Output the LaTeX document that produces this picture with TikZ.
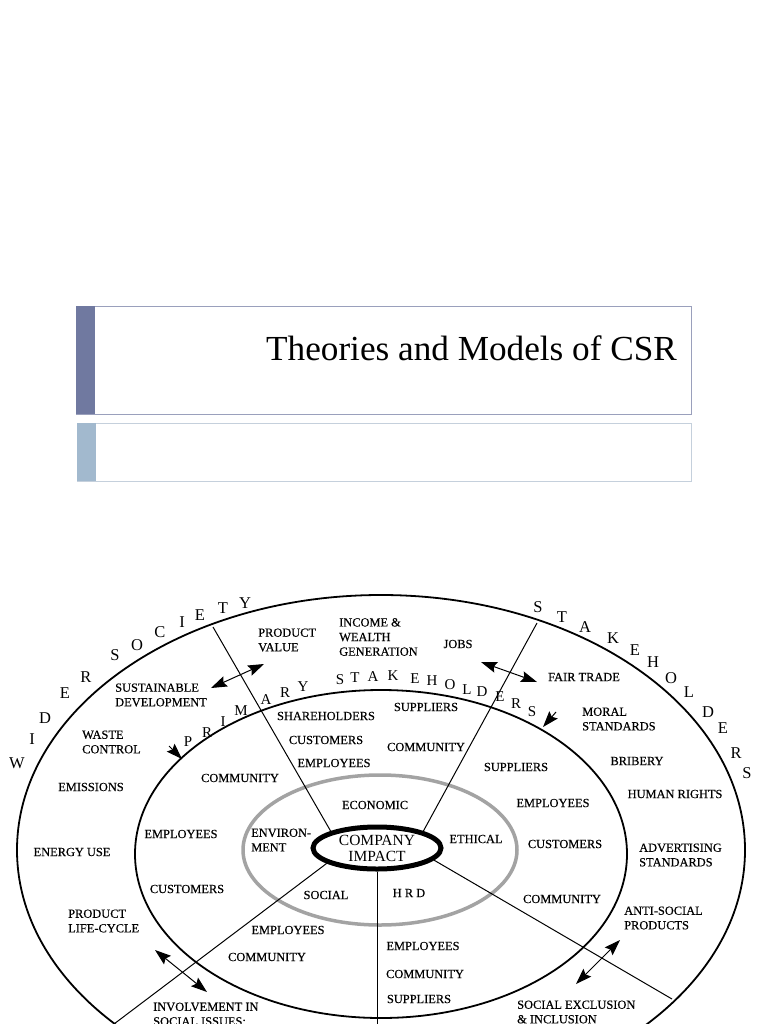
\documentclass[tikz,border=0pt]{standalone}
\usepackage{fontspec}
\setmainfont{Liberation Serif}
\newfontfamily\labelfont[FakeBold=0.35]{Liberation Serif}
\usetikzlibrary{shapes.geometric,arrows.meta}
\definecolor{barDark}{HTML}{7079A0}
\definecolor{barLight}{HTML}{A2B9CE}
\definecolor{frameDark}{HTML}{9AA0BC}
\definecolor{frameLight}{HTML}{C5D0DC}
\definecolor{ringGray}{HTML}{A3A3A3}
\tikzset{
  lbl/.style={inner sep=0pt,font=\labelfont\fontsize{12.4}{14.6}\selectfont},
  lblL/.style={lbl,anchor=west,align=left},
  arcletter/.style={inner sep=0pt,font=\fontsize{16.5}{17}\selectfont},
  priletter/.style={inner sep=0pt,font=\fontsize{15}{16}\selectfont},
  twoway/.style={line width=1pt,<->},
  oneway/.style={line width=1pt,->}
}

\begin{document}
\begin{tikzpicture}[x=1pt, y=-1pt, >={Stealth[length=16pt,width=11pt,inset=2.5pt]}]
    \useasboundingbox (0,0) rectangle (768,1024);
    \fill[white] (0,0) rectangle (768,1024);
    \clip (0,0) rectangle (768,1024);
    \tikzstyle{impactnode}=[ellipse,draw,line width=5pt,minimum width=128pt,minimum height=42pt,inner sep=0pt,align=center,font=\fontsize{15.5}{16}\selectfont]

    % title boxes
    \draw[frameDark, line width=0.8pt] (76,306) rectangle (691,414);
    \fill[barDark] (76,306) rectangle (95,414);
    \draw[frameLight, line width=0.8pt] (77,423) rectangle (691,481);
    \fill[barLight] (77,423) rectangle (96,481);
    \node[anchor=base east, inner sep=0pt, font=\fontsize{35.2}{40}\selectfont] (T_title) at (677,360) {Theories and Models of CSR};

    % rings
    \draw[line width=1.8pt] (381,850) ellipse [x radius=364pt, y radius=255pt];
    \draw[line width=1.8pt] (381,854) ellipse [x radius=246pt, y radius=164pt];
    \draw[ringGray, line width=3.5pt] (380,850) ellipse [x radius=137pt, y radius=75pt];
    \node[impactnode] (impact) at (377,848) {COMPANY\\IMPACT};

    % spokes
    \coordinate (S_nw) at (213,627);
    \coordinate (S_ne) at (537,623);
    \coordinate (S_se) at (672,999);
    \coordinate (S_s)  at (377,1030);
    \coordinate (S_sw) at (110,1027);
    \draw[line width=1pt] (impact.160) -- (S_nw);
    \draw[line width=1pt] (impact.20) -- (S_ne);
    \draw[line width=1pt] (impact.-12) -- (S_se);
    \draw[line width=1pt] (impact.south) -- (S_s);
    \draw[line width=1pt] (impact.197) -- (S_sw);

    % letters round the rings
    \foreach \ch/\px/\py [count=\i] in {W/17/763, I/32/739, D/45/718, E/65/693, R/86/677,
        S/115/655, O/137/645, C/160/632, I/182/622, E/200/615, T/223/608, Y/245/603,
        S/538/607, T/562/617, A/585/627, K/613/638, E/635/650, H/653/662, O/671/678,
        L/689/692, D/708/712, E/723/728, R/736/753, S/747/773}
        \node[arcletter] (W_\i) at (\px,\py) {\ch};
    \foreach \ch/\px/\py [count=\i] in {P/188/742, R/207/733, I/223/722, M/241/711, A/266/700,
        R/285/693, Y/303/687, S/340/680, T/355/678, A/373/677, K/393/676, E/415/679,
        H/432/681, O/450/685, L/467/690, D/482/692, E/500/697, R/516/704, S/532/712}
        \node[priletter] (P_\i) at (\px,\py) {\ch};

    % wider society ring
    \node[lblL] (O_prodval) at (258,640) {PRODUCT\\VALUE};
    \node[lblL] (O_income) at (339,637) {INCOME \&\\WEALTH\\GENERATION};
    \node[lbl] (O_jobs) at (458,644) {JOBS};
    \node[lbl] (O_fair) at (584,677) {FAIR TRADE};
    \node[lblL] (O_moral) at (582,719) {MORAL\\STANDARDS};
    \node[lbl] (O_bribery) at (637,761) {BRIBERY};
    \node[lbl] (O_human) at (675,794) {HUMAN RIGHTS};
    \node[lblL] (O_advert) at (639,855) {ADVERTISING\\STANDARDS};
    \node[lblL] (O_antisoc) at (624,918) {ANTI-SOCIAL\\PRODUCTS};
    \node[lblL] (O_exclusion) at (517,1012) {SOCIAL EXCLUSION\\\& INCLUSION};
    \node[lblL] (O_involve) at (153,1015) {INVOLVEMENT IN\\SOCIAL ISSUES;};
    \node[lblL] (O_life) at (68,921) {PRODUCT\\LIFE-CYCLE};
    \node[lbl] (O_energy) at (72,852) {ENERGY USE};
    \node[lbl] (O_emissions) at (91,787) {EMISSIONS};
    \node[lblL] (O_waste) at (82,742) {WASTE\\CONTROL};
    \node[lblL] (O_sust) at (115,695) {SUSTAINABLE\\DEVELOPMENT};

    % primary stakeholder ring
    \node[lbl] (I_share) at (326,716) {SHAREHOLDERS};
    \node[lbl] (I_supp_t) at (426,707) {SUPPLIERS};
    \node[lbl] (I_cust_t) at (326,740) {CUSTOMERS};
    \node[lbl] (I_comm_t) at (426,747) {COMMUNITY};
    \node[lbl] (I_empl_t) at (334,763) {EMPLOYEES};
    \node[lbl] (I_comm_l) at (240,778) {COMMUNITY};
    \node[lbl] (I_empl_l) at (181,834) {EMPLOYEES};
    \node[lbl] (I_cust_l) at (187,889) {CUSTOMERS};
    \node[lbl] (I_empl_bl) at (288,930) {EMPLOYEES};
    \node[lbl] (I_comm_bl) at (267,957) {COMMUNITY};
    \node[lbl] (I_empl_b) at (423,946) {EMPLOYEES};
    \node[lbl] (I_comm_b) at (425,974) {COMMUNITY};
    \node[lbl] (I_supp_b) at (419,999) {SUPPLIERS};
    \node[lbl] (I_supp_r) at (516,767) {SUPPLIERS};
    \node[lbl] (I_empl_r) at (553,803) {EMPLOYEES};
    \node[lbl] (I_cust_r) at (565,844) {CUSTOMERS};
    \node[lbl] (I_comm_r) at (562,899) {COMMUNITY};

    % impact ring
    \node[lbl] (G_econ) at (375,805) {ECONOMIC};
    \node[lblL] (G_env) at (251,840) {ENVIRON-\\MENT};
    \node[lbl] (G_eth) at (476,839) {ETHICAL};
    \node[lbl] (G_soc) at (326,895) {SOCIAL};
    \node[lbl] (G_hrd) at (409,893) {H R D};

    % arrows
    \coordinate (A_1a) at (211,688); \coordinate (A_1b) at (264,664);
    \coordinate (A_2a) at (481,662); \coordinate (A_2b) at (537,682);
    \coordinate (A_3a) at (169,746); \coordinate (A_3b) at (182,759);
    \coordinate (A_4a) at (556,712); \coordinate (A_4b) at (543,727);
    \coordinate (A_5a) at (155,950); \coordinate (A_5b) at (207,992);
    \coordinate (A_6a) at (620,940); \coordinate (A_6b) at (576,984);
    \draw[twoway] (A_1a) -- (A_1b);
    \draw[twoway] (A_2a) -- (A_2b);
    \draw[oneway] (A_3a) -- (A_3b);
    \draw[oneway] (A_4a) -- (A_4b);
    \draw[twoway] (A_5a) -- (A_5b);
    \draw[twoway] (A_6a) -- (A_6b);
\end{tikzpicture}
\end{document}
